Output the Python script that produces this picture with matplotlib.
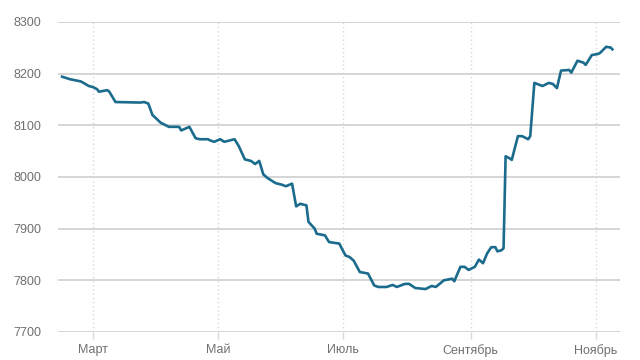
import pandas as pd
import matplotlib.pyplot as plt

plt.rcParams['font.family'] = ['Liberation Sans', 'DejaVu Sans']

dates = [
    '2015-02-14', '2015-02-18', '2015-02-23', '2015-02-24', '2015-02-27',
    '2015-03-01', '2015-03-03', '2015-03-04', '2015-03-08', '2015-03-09',
    '2015-03-12', '2015-03-24', '2015-03-26', '2015-03-28', '2015-03-30',
    '2015-04-03', '2015-04-07', '2015-04-12', '2015-04-13', '2015-04-17',
    '2015-04-20', '2015-04-22', '2015-04-26', '2015-04-27', '2015-04-29',
    '2015-05-02', '2015-05-04', '2015-05-09', '2015-05-11', '2015-05-14',
    '2015-05-17', '2015-05-19', '2015-05-21', '2015-05-23', '2015-05-25',
    '2015-05-29', '2015-06-01', '2015-06-03', '2015-06-06', '2015-06-08',
    '2015-06-10', '2015-06-13', '2015-06-14', '2015-06-17', '2015-06-18',
    '2015-06-22', '2015-06-24', '2015-06-29', '2015-07-02', '2015-07-04',
    '2015-07-06', '2015-07-09', '2015-07-13', '2015-07-16', '2015-07-18',
    '2015-07-22', '2015-07-25', '2015-07-27', '2015-07-31', '2015-08-02',
    '2015-08-05', '2015-08-10', '2015-08-13', '2015-08-15', '2015-08-19',
    '2015-08-23', '2015-08-24', '2015-08-27', '2015-08-29', '2015-08-31',
    '2015-09-03', '2015-09-05', '2015-09-07', '2015-09-09', '2015-09-11',
    '2015-09-13', '2015-09-14', '2015-09-16', '2015-09-17', '2015-09-18',
    '2015-09-20', '2015-09-21', '2015-09-24', '2015-09-26', '2015-09-29',
    '2015-09-30', '2015-10-02', '2015-10-06', '2015-10-09', '2015-10-11',
    '2015-10-13', '2015-10-15', '2015-10-19', '2015-10-20', '2015-10-23',
    '2015-10-26', '2015-10-27', '2015-10-30', '2015-11-02', '2015-11-03',
    '2015-11-06', '2015-11-07', '2015-11-08', '2015-11-09',
]
values = [
    8194, 8189, 8185, 8183, 8176,
    8174, 8170, 8165, 8168, 8165,
    8145, 8144, 8145, 8142, 8120,
    8105, 8097, 8097, 8090, 8097,
    8075, 8073, 8073, 8071, 8068,
    8073, 8068, 8073, 8060, 8034,
    8031, 8025, 8031, 8005, 7998,
    7988, 7985, 7982, 7987, 7943,
    7948, 7945, 7913, 7900, 7890,
    7887, 7874, 7871, 7848, 7845,
    7838, 7816, 7813, 7790, 7787,
    7787, 7791, 7787, 7793, 7793,
    7785, 7783, 7789, 7787, 7800,
    7803, 7798, 7826, 7826, 7820,
    7826, 7840, 7833, 7852, 7864,
    7864, 7856, 7858, 7862, 8040,
    8036, 8033, 8079, 8079, 8073,
    8079, 8182, 8176, 8182, 8180,
    8172, 8206, 8207, 8202, 8225,
    8221, 8217, 8236, 8238, 8240,
    8252, 8251, 8251, 8247,
]
month_ticks = ['2015-03-01', '2015-05-01', '2015-07-01', '2015-09-01', '2015-11-01']
month_labels = ['Март', 'Май', 'Июль', 'Сентябрь', 'Ноябрь']
y_ticks = [7700, 7800, 7900, 8000, 8100, 8200, 8300]

x = pd.to_datetime(dates)

fig = plt.figure(figsize=(6.4, 3.6), dpi=100)
ax = fig.add_axes([0.0906, 0.078, 0.878, 0.861])

ax.plot(x, values, color='#1b6b8d', lw=1.9, solid_joinstyle='round')

ax.set_xlim(pd.Timestamp('2015-02-12'), pd.Timestamp('2015-11-12 16:00'))
ax.set_ylim(7700, 8300)
ax.set_yticks(y_ticks)
ax.set_xticks(pd.to_datetime(month_ticks))
ax.set_xticklabels(month_labels)

# сетка: горизонтальная сплошная, вертикальная пунктиром
ax.grid(axis='y', color='#d2d2d2', lw=1.3, ls='-')
ax.grid(axis='x', color='#d8d8d8', lw=1.0, ls=(0, (1, 2)))
ax.set_axisbelow(True)
for s in ax.spines.values():
    s.set_visible(False)

ax.tick_params(axis='y', length=0, pad=12, labelsize=9, labelcolor='#707070')
ax.tick_params(axis='x', length=5, width=1.0, color='#d8d8d8', pad=4,
               labelsize=9, labelcolor='#707070')

fig.savefig('out.png', dpi=100)
